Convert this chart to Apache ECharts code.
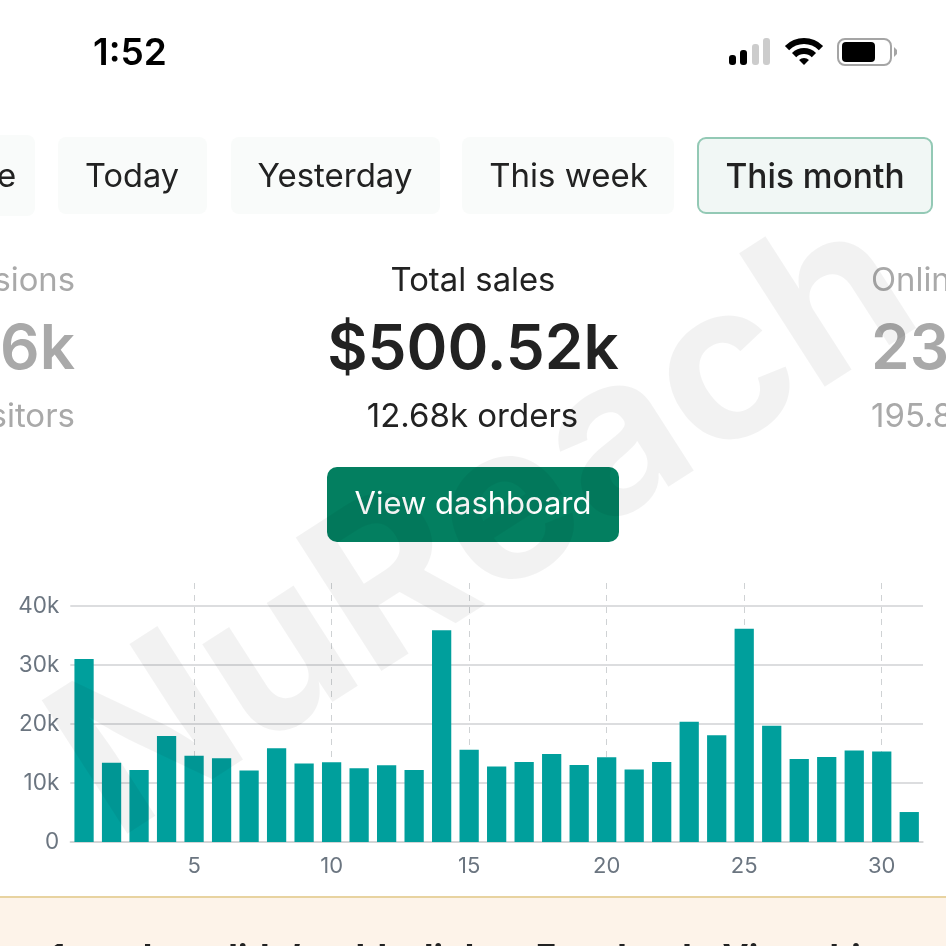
<!DOCTYPE html>
<html><head><meta charset="utf-8">
<style>html,body{margin:0;padding:0;background:#fff}#c{width:946px;height:946px}</style>
<script src="https://cdn.jsdelivr.net/npm/echarts@6/dist/echarts.min.js"></script>
</head><body><div id="c"></div>
<script>
const days = Array.from({length:31},(_,i)=>String(i+1));
const sales = [31000,13450,12200,17950,14600,14200,12100,15900,13300,13500,12500,13000,12200,35900,15650,12800,13550,14900,13050,14350,12300,13550,20400,18100,36150,19700,14050,14400,15500,15350,5080];
const yTicks = [0,10000,20000,30000,40000];
const font = 'Inter';
const chart = echarts.init(document.getElementById('c'),null,{renderer:'canvas'});
function t(x,y,text,size,fill,weight,align,z){return {type:'text',x,y,z:z||5,style:{text,fontSize:size,fontFamily:font,fontWeight:weight||400,fill,align:align||'left',verticalAlign:'middle'}};}
function box(x,y,w,h,r,fill,stroke){return {type:'rect',z:1,shape:{x,y,width:w,height:h,r},style:{fill,stroke:stroke||null,lineWidth:stroke?2:0}};}
const D=Math.PI/180;
function wifi(r,r0){return {type:'sector',z:5,shape:{cx:804,cy:65,r,r0,startAngle:225*D,endAngle:315*D,clockwise:true},style:{fill:'#000'}};}
const ui = [
  t(130,53.5,'1:52',37,'#000',600,'center'),
  {type:'rect',z:5,shape:{x:729,y:55,width:7,height:10,r:3},style:{fill:'#000'}},
  {type:'rect',z:5,shape:{x:740,y:50,width:7,height:15,r:3},style:{fill:'#000'}},
  {type:'rect',z:5,shape:{x:752,y:44,width:7,height:21,r:3},style:{fill:'#ccc'}},
  {type:'rect',z:5,shape:{x:763,y:38,width:7,height:27,r:3},style:{fill:'#ccc'}},
  wifi(27,21),wifi(17,11),wifi(7,0),
  {type:'rect',z:5,shape:{x:838,y:39,width:53,height:26,r:7},style:{fill:'#fff',stroke:'#a5a5a5',lineWidth:2}},
  {type:'rect',z:5,shape:{x:842,y:42,width:33,height:20,r:4},style:{fill:'#000'}},
  {type:'polygon',z:5,shape:{points:[[894,47],[897,50],[897,54],[894,57]]},style:{fill:'#a5a5a5'}},
  box(-30,135,65,81,8,'#f9fbfa'),
  box(58,137,149,77,8,'#f9fbfa'),
  box(231,137,209,77,8,'#f9fbfa'),
  box(462,137,212,77,8,'#f9fbfa'),
  box(698,138,234,75,8,'#f1f7f5','#93c9b5'),
  t(-3,177.5,'e',33,'#222'),
  t(132,177.5,'Today',32.5,'#222',400,'center'),
  t(335,177.5,'Yesterday',33,'#222',400,'center'),
  t(568.5,177.5,'This week',33,'#222',400,'center'),
  t(815,177.5,'This month',33.5,'#222',500,'center'),
  t(75,281,'sessions',32.8,'#a9a9a9',400,'right'),
  t(75,350,'246k',62,'#a9a9a9',600,'right'),
  t(75,417,'visitors',33,'#a9a9a9',400,'right'),
  t(473,281,'Total sales',32.8,'#222',400,'center'),
  t(473,350,'$500.52k',62,'#222',600,'center'),
  t(472.5,417,'12.68k orders',33,'#222',400,'center'),
  t(871,281,'Online',32.8,'#a9a9a9'),
  t(871,350,'23',62,'#a9a9a9',600),
  t(871,417,'195.8',33,'#a9a9a9'),
  box(327,467,292,75,10,'#037f60'),
  t(473,505,'View dashboard',31,'#fff',400,'center'),
  box(-2,897,950,60,0,'#fdf3e9'),
  {type:'line',z:2,shape:{x1:0,y1:897,x2:946,y2:897},style:{stroke:'#e8d3a0',lineWidth:2}},
  t(50,959,'1 product didn\u2019t add a link to Facebook. View this',35,'#222',700,'left'),
  {type:'text',z:50,silent:true,x:486,y:526,rotation:0.57,originX:0,originY:0,style:{text:'NuReach',fontSize:218,fontFamily:font,fontWeight:700,fill:'rgba(0,0,0,0.05)',align:'center',verticalAlign:'middle'}}
];
chart.setOption({
  animation:false,
  backgroundColor:'#fff',
  graphic:{elements:ui},
  grid:{left:70.3,right:23,top:583,height:259,containLabel:false},
  xAxis:{type:'category',data:days,
    axisLine:{lineStyle:{color:'#cfd2d4',width:1.5}},axisTick:{show:false},
    axisLabel:{color:'#6b7580',fontFamily:font,fontSize:22,margin:13,interval:(i)=>(i+1)%5===0},
    splitLine:{show:true,alignWithLabel:true,interval:(i)=>(i+1)%5===0,lineStyle:{color:'#cfd2d4',type:[6,6],width:1}}},
  yAxis:{type:'value',min:0,max:43900,interval:10000,
    axisLine:{show:false},axisTick:{show:false},
    axisLabel:{color:'#6b7580',fontFamily:font,fontSize:22.5,margin:11,showMaxLabel:false,formatter:(v)=>yTicks.includes(v)?(v===0?'0':v/1000+'k'):''},
    splitLine:{show:true,showMaxLine:false,lineStyle:{color:'#d0d2d4',width:1.5}}},
  series:[{type:'bar',data:sales,barWidth:'70%',itemStyle:{color:'#009f9c'},silent:true}]
});
</script></body></html>
